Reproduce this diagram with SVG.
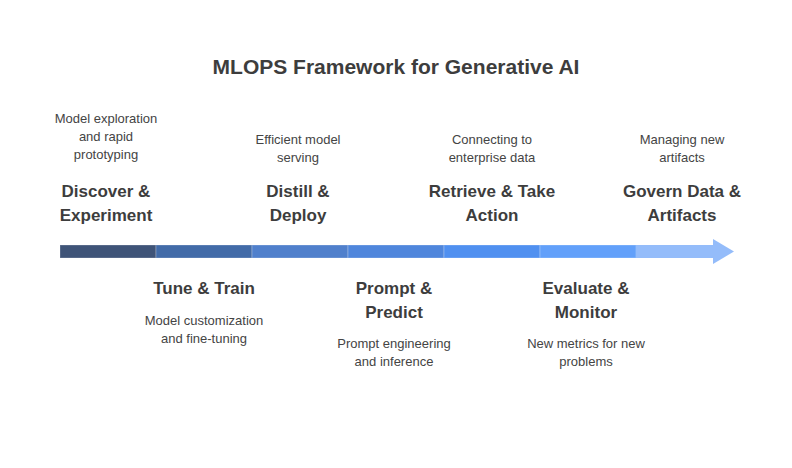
<svg xmlns="http://www.w3.org/2000/svg" width="792" height="468" viewBox="0 0 792 468">
<style>
text{font-family:"Liberation Sans",Arial,sans-serif;text-anchor:middle;fill:#3d3d3d}
.h{font-size:17px;font-weight:bold}
.d{font-size:13px;fill:#444}
.s{stroke:#ffffff;stroke-opacity:.25;stroke-width:1}
</style>
<rect width="792" height="468" fill="#fff"/>
<text x="396" y="74" style="font-size:21px;font-weight:bold">MLOPS Framework for Generative AI</text>
<g id="connectors">
<rect class="s" x="60" y="245" width="96" height="13" fill="#3f5478"/>
<rect class="s" x="156" y="245" width="96" height="13" fill="#426ba8"/>
<rect class="s" x="252" y="245" width="96" height="13" fill="#5080cc"/>
<rect class="s" x="348" y="245" width="96" height="13" fill="#4f86dc"/>
<rect class="s" x="444" y="245" width="96" height="13" fill="#5090f0"/>
<rect class="s" x="540" y="245" width="96" height="13" fill="#62a0fa"/>
<path d="M636 245H713V239L734 251.5L713 264V258H636Z" fill="#94bcfa"/>
</g>
<g id="discover"><text class="d" x="106" y="123">Model exploration</text><text class="d" x="106" y="141">and rapid</text><text class="d" x="106" y="159">prototyping</text><text class="h" x="106" y="197">Discover &amp;</text><text class="h" x="106" y="221">Experiment</text></g>
<g id="tune"><text class="h" x="204" y="294">Tune &amp; Train</text><text class="d" x="204" y="325">Model customization</text><text class="d" x="204" y="343">and fine-tuning</text></g>
<g id="distill"><text class="d" x="298" y="144">Efficient model</text><text class="d" x="298" y="162">serving</text><text class="h" x="298" y="197">Distill &amp;</text><text class="h" x="298" y="221">Deploy</text></g>
<g id="prompt"><text class="h" x="394" y="294">Prompt &amp;</text><text class="h" x="394" y="318">Predict</text><text class="d" x="394" y="348">Prompt engineering</text><text class="d" x="394" y="366">and inference</text></g>
<g id="retrieve"><text class="d" x="492" y="144">Connecting to</text><text class="d" x="492" y="162">enterprise data</text><text class="h" x="492" y="197">Retrieve &amp; Take</text><text class="h" x="492" y="221">Action</text></g>
<g id="evaluate"><text class="h" x="586" y="294">Evaluate &amp;</text><text class="h" x="586" y="318">Monitor</text><text class="d" x="586" y="348">New metrics for new</text><text class="d" x="586" y="366">problems</text></g>
<g id="govern"><text class="d" x="682" y="144">Managing new</text><text class="d" x="682" y="162">artifacts</text><text class="h" x="682" y="197">Govern Data &amp;</text><text class="h" x="682" y="221">Artifacts</text></g>
</svg>
